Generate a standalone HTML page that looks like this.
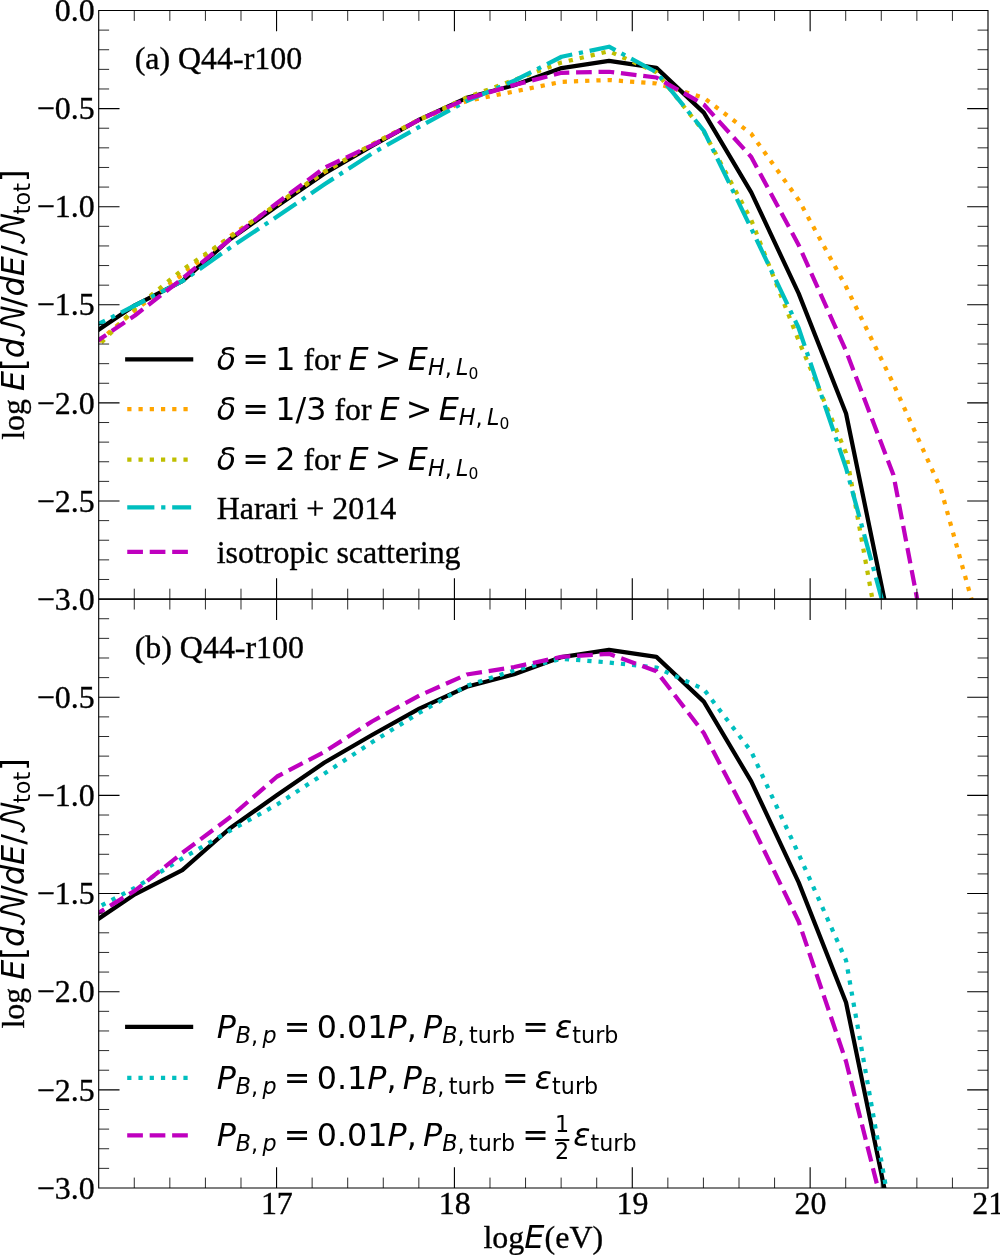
<!DOCTYPE html>
<html lang="en"><head><meta charset="utf-8"><title>Q44-r100 spectra</title>
<style>
html,body{margin:0;padding:0;background:#fff}
svg{display:block}
.ln path{fill:none;stroke-width:4.24;stroke-linejoin:round}
.tx text{fill:#000;}
.t{font-family:"Liberation Serif",serif;font-size:31.94px;stroke:#000;stroke-width:0.35px;}
.i{font-family:"DejaVu Sans",sans-serif;font-style:oblique;font-size:31.94px}
.r{font-family:"DejaVu Sans",sans-serif;font-size:31.94px}
.is{font-family:"DejaVu Sans",sans-serif;font-style:oblique;font-size:22.36px}
.rs{font-family:"DejaVu Sans",sans-serif;font-size:22.36px}
.iss{font-family:"DejaVu Sans",sans-serif;font-style:oblique;font-size:15.65px}
.rss{font-family:"DejaVu Sans",sans-serif;font-size:15.65px}
.c{font-family:"DejaVu Math TeX Gyre","DejaVu Serif",serif;font-size:31.94px}
</style></head>
<body>
<svg width="1000" height="1255" viewBox="0 0 1000 1255">
<rect width="1000" height="1255" fill="#fff"/>
<defs><clipPath id="ca"><rect x="98.7" y="10.5" width="889.3" height="588.6"/></clipPath><clipPath id="cb"><rect x="98.7" y="599.1" width="889.3" height="588.9"/></clipPath></defs>
<g class="ln" clip-path="url(#ca)">
<path d="M87.49 337.2L134.9 305.3L182.31 281.2L229.72 239.5L277.13 206L324.54 173.5L371.95 146L419.36 119.7L466.77 97.8L514.18 85.3L561.59 68.1L609 60.8L656.41 67.9L703.82 112.6L751.23 192.4L798.64 293.4L846.05 413.5L893.46 643.4" stroke="#000" stroke-linecap="square"/>
<path d="M87.49 351L134.9 310.4L182.31 274.7L229.72 236.5L277.13 204.5L324.54 172L371.95 144.5L419.36 119.5L466.77 101L514.18 91.5L561.59 81.8L609 80L656.41 83.5L703.82 97.75L751.23 133.75L798.64 199.9L846.05 286.7L893.46 384L940.87 489L988.28 659.6" stroke="#ffa500" stroke-dasharray="4.24 7.00" stroke-dashoffset="7.54"/>
<path d="M87.49 356.7L134.9 308.5L182.31 269.9L229.72 237.5L277.13 204L324.54 171.5L371.95 144.5L419.36 119.5L466.77 97.5L514.18 80L561.59 62.5L609 51.2L656.41 72.25L703.82 131.5L751.23 220L798.64 340.5L846.05 453L893.46 716" stroke="#bfbf00" stroke-dasharray="4.24 7.00" stroke-dashoffset="2.71"/>
<path d="M87.49 329.5L134.9 305.5L182.31 281.2L229.72 248L277.13 216.5L324.54 184.25L371.95 153.5L419.36 126.8L466.77 101L514.18 80.75L561.59 56.75L609 46.7L656.41 72.25L703.82 130.75L751.23 228.5L798.64 328L846.05 468L893.46 642" stroke="#00bfbf" stroke-dasharray="27.14 6.78 4.24 6.78" stroke-dashoffset="7.41"/>
<path d="M87.49 347.5L134.9 315.5L182.31 278.7L229.72 239.6L277.13 203L324.54 167.75L371.95 145.3L419.36 119.75L466.77 98.75L514.18 85L561.59 72.8L609 71.75L656.41 77.5L703.82 104.5L751.23 157L798.64 245L846.05 351L893.46 475L940.87 723" stroke="#bf00bf" stroke-dasharray="15.69 6.78" stroke-dashoffset="15.62"/>
</g>
<g class="ln" clip-path="url(#cb)">
<path d="M87.49 926.2L134.9 894.3L182.31 870.2L229.72 828.5L277.13 795L324.54 762.5L371.95 735L419.36 708.7L466.77 686.8L514.18 674.3L561.59 657.1L609 649.8L656.41 656.9L703.82 701.6L751.23 781.4L798.64 882.4L846.05 1002.5L893.46 1232.4" stroke="#000" stroke-linecap="square"/>
<path d="M87.49 912.9L134.9 887.9L182.31 858.4L229.72 830.8L277.13 804.5L324.54 773.5L371.95 742.3L419.36 712.75L466.77 685.75L514.18 670.4L561.59 658.75L609 662.5L656.41 667.5L703.82 689.25L751.23 751.5L798.64 854L846.05 960.5L893.46 1230" stroke="#00bfbf" stroke-dasharray="4.24 7.00" stroke-dashoffset="6.45"/>
<path d="M87.49 919.5L134.9 890.7L182.31 852.9L229.72 817.5L277.13 776.5L324.54 751.75L371.95 721.5L419.36 695.5L466.77 674.5L514.18 667L561.59 656.8L609 653.8L656.41 671.25L703.82 733L751.23 824L798.64 921.5L846.05 1061.5L893.46 1249.7" stroke="#bf00bf" stroke-dasharray="15.69 6.78" stroke-dashoffset="18.58"/>
</g>
<path d="M276.56 599.1v-20.83M276.56 10.5v20.83M454.42 599.1v-20.83M454.42 10.5v20.83M632.28 599.1v-20.83M632.28 10.5v20.83M810.14 599.1v-20.83M810.14 10.5v20.83M98.7 108.6h20.83M988 108.6h-20.83M98.7 206.7h20.83M988 206.7h-20.83M98.7 304.8h20.83M988 304.8h-20.83M98.7 402.9h20.83M988 402.9h-20.83M98.7 501h20.83M988 501h-20.83M276.56 1188v-20.83M276.56 599.1v20.83M454.42 1188v-20.83M454.42 599.1v20.83M632.28 1188v-20.83M632.28 599.1v20.83M810.14 1188v-20.83M810.14 599.1v20.83M98.7 697.25h20.83M988 697.25h-20.83M98.7 795.4h20.83M988 795.4h-20.83M98.7 893.55h20.83M988 893.55h-20.83M98.7 991.7h20.83M988 991.7h-20.83M98.7 1089.85h20.83M988 1089.85h-20.83" fill="none" stroke="#000" stroke-width="1.11"/>
<path d="M134.27 599.1v-10.42M134.27 10.5v10.42M169.84 599.1v-10.42M169.84 10.5v10.42M205.42 599.1v-10.42M205.42 10.5v10.42M240.99 599.1v-10.42M240.99 10.5v10.42M312.13 599.1v-10.42M312.13 10.5v10.42M347.7 599.1v-10.42M347.7 10.5v10.42M383.28 599.1v-10.42M383.28 10.5v10.42M418.85 599.1v-10.42M418.85 10.5v10.42M489.99 599.1v-10.42M489.99 10.5v10.42M525.56 599.1v-10.42M525.56 10.5v10.42M561.14 599.1v-10.42M561.14 10.5v10.42M596.71 599.1v-10.42M596.71 10.5v10.42M667.85 599.1v-10.42M667.85 10.5v10.42M703.42 599.1v-10.42M703.42 10.5v10.42M739 599.1v-10.42M739 10.5v10.42M774.57 599.1v-10.42M774.57 10.5v10.42M845.71 599.1v-10.42M845.71 10.5v10.42M881.28 599.1v-10.42M881.28 10.5v10.42M916.86 599.1v-10.42M916.86 10.5v10.42M952.43 599.1v-10.42M952.43 10.5v10.42M98.7 30.12h10.42M988 30.12h-10.42M98.7 49.74h10.42M988 49.74h-10.42M98.7 69.36h10.42M988 69.36h-10.42M98.7 88.98h10.42M988 88.98h-10.42M98.7 128.22h10.42M988 128.22h-10.42M98.7 147.84h10.42M988 147.84h-10.42M98.7 167.46h10.42M988 167.46h-10.42M98.7 187.08h10.42M988 187.08h-10.42M98.7 226.32h10.42M988 226.32h-10.42M98.7 245.94h10.42M988 245.94h-10.42M98.7 265.56h10.42M988 265.56h-10.42M98.7 285.18h10.42M988 285.18h-10.42M98.7 324.42h10.42M988 324.42h-10.42M98.7 344.04h10.42M988 344.04h-10.42M98.7 363.66h10.42M988 363.66h-10.42M98.7 383.28h10.42M988 383.28h-10.42M98.7 422.52h10.42M988 422.52h-10.42M98.7 442.14h10.42M988 442.14h-10.42M98.7 461.76h10.42M988 461.76h-10.42M98.7 481.38h10.42M988 481.38h-10.42M98.7 520.62h10.42M988 520.62h-10.42M98.7 540.24h10.42M988 540.24h-10.42M98.7 559.86h10.42M988 559.86h-10.42M98.7 579.48h10.42M988 579.48h-10.42M134.27 1188v-10.42M134.27 599.1v10.42M169.84 1188v-10.42M169.84 599.1v10.42M205.42 1188v-10.42M205.42 599.1v10.42M240.99 1188v-10.42M240.99 599.1v10.42M312.13 1188v-10.42M312.13 599.1v10.42M347.7 1188v-10.42M347.7 599.1v10.42M383.28 1188v-10.42M383.28 599.1v10.42M418.85 1188v-10.42M418.85 599.1v10.42M489.99 1188v-10.42M489.99 599.1v10.42M525.56 1188v-10.42M525.56 599.1v10.42M561.14 1188v-10.42M561.14 599.1v10.42M596.71 1188v-10.42M596.71 599.1v10.42M667.85 1188v-10.42M667.85 599.1v10.42M703.42 1188v-10.42M703.42 599.1v10.42M739 1188v-10.42M739 599.1v10.42M774.57 1188v-10.42M774.57 599.1v10.42M845.71 1188v-10.42M845.71 599.1v10.42M881.28 1188v-10.42M881.28 599.1v10.42M916.86 1188v-10.42M916.86 599.1v10.42M952.43 1188v-10.42M952.43 599.1v10.42M98.7 618.73h10.42M988 618.73h-10.42M98.7 638.36h10.42M988 638.36h-10.42M98.7 657.99h10.42M988 657.99h-10.42M98.7 677.62h10.42M988 677.62h-10.42M98.7 716.88h10.42M988 716.88h-10.42M98.7 736.51h10.42M988 736.51h-10.42M98.7 756.14h10.42M988 756.14h-10.42M98.7 775.77h10.42M988 775.77h-10.42M98.7 815.03h10.42M988 815.03h-10.42M98.7 834.66h10.42M988 834.66h-10.42M98.7 854.29h10.42M988 854.29h-10.42M98.7 873.92h10.42M988 873.92h-10.42M98.7 913.18h10.42M988 913.18h-10.42M98.7 932.81h10.42M988 932.81h-10.42M98.7 952.44h10.42M988 952.44h-10.42M98.7 972.07h10.42M988 972.07h-10.42M98.7 1011.33h10.42M988 1011.33h-10.42M98.7 1030.96h10.42M988 1030.96h-10.42M98.7 1050.59h10.42M988 1050.59h-10.42M98.7 1070.22h10.42M988 1070.22h-10.42M98.7 1109.48h10.42M988 1109.48h-10.42M98.7 1129.11h10.42M988 1129.11h-10.42M98.7 1148.74h10.42M988 1148.74h-10.42M98.7 1168.37h10.42M988 1168.37h-10.42" fill="none" stroke="#000" stroke-width="0.83"/>
<path d="M98.7 10.5H988V1188H98.7ZM98.7 599.1H988" fill="none" stroke="#000" stroke-width="1.11" stroke-linecap="square" stroke-linejoin="miter"/>
<path d="M98.7 599.1H988" fill="none" stroke="#000" stroke-width="1.11"/>
<g class="ln">
<path d="M127.25 359.26H191.14" stroke="#000" stroke-linecap="square"/>
<path d="M127.25 409.2H191.14" stroke="#ffa500" stroke-dasharray="4.24 7"/>
<path d="M127.25 459.54H191.14" stroke="#bfbf00" stroke-dasharray="4.24 7"/>
<path d="M127.25 507.34H191.14" stroke="#00bfbf" stroke-dasharray="27.14 6.78 4.24 6.78"/>
<path d="M127.25 551.98H191.14" stroke="#bf00bf" stroke-dasharray="15.69 6.78"/>
<path d="M127.2 1026.79H191.09" stroke="#000" stroke-linecap="square"/>
<path d="M127.2 1077.97H191.09" stroke="#00bfbf" stroke-dasharray="4.24 7"/>
<path d="M127.2 1135.49H191.09" stroke="#bf00bf" stroke-dasharray="15.69 6.78"/>
</g>
<g class="tx">
<text class="t" x="94.74" y="609.78" text-anchor="end">−3.0</text>
<text class="t" x="94.74" y="511.68" text-anchor="end">−2.5</text>
<text class="t" x="94.74" y="413.58" text-anchor="end">−2.0</text>
<text class="t" x="94.74" y="315.48" text-anchor="end">−1.5</text>
<text class="t" x="94.74" y="217.38" text-anchor="end">−1.0</text>
<text class="t" x="94.74" y="119.28" text-anchor="end">−0.5</text>
<text class="t" x="94.74" y="21.18" text-anchor="end">0.0</text>
<g transform="translate(24.87 439.77) rotate(-90)"><text><tspan class="t" x="0 8.89 24.89 40.89" y="-0.56">log </tspan><tspan class="i" x="48.89" y="-0.56">E</tspan><tspan class="r" x="69.11" y="-0.56">[</tspan><tspan class="i" x="81.59" y="-0.56">d</tspan><tspan class="c" x="100.41" y="-0.56">𝒩</tspan><tspan class="r" x="132.53" y="-0.56">/</tspan><tspan class="i" x="143.31 163.62" y="-0.56">dE</tspan><tspan class="r" x="183.84" y="-0.56">/</tspan><tspan class="c" x="193.12" y="-0.56">𝒩</tspan><tspan class="rs" x="225.55 234.34 248.04" y="4.69">tot</tspan><tspan class="r" x="257.7" y="-0.56">]</tspan></text></g>
<text class="t" x="134.63" y="69.43">(a) Q44-r100</text>
<g transform="translate(216.69 370.44) scale(0.995 1)"><text><tspan class="i" x="0" y="-0.25">δ</tspan><tspan class="r" x="25.81 58.86" y="-0.25">=1</tspan><tspan class="t" x="79.22 87.22 97.88 113.88 124.53" y="-0.25"> for </tspan><tspan class="i" x="132.53" y="-0.25">E</tspan><tspan class="r" x="158.98" y="-0.25">&gt;</tspan><tspan class="i" x="192.03" y="-0.25">E</tspan><tspan class="is" x="212.25" y="5">H</tspan><tspan class="rs" x="229.09" y="5">,</tspan><tspan class="is" x="240.58" y="5">L</tspan><tspan class="rss" x="253.06" y="8.68">0</tspan></text></g>
<g transform="translate(216.69 420.38) scale(0.995 1)"><text><tspan class="i" x="0" y="-0.25">δ</tspan><tspan class="r" x="25.81 58.86 79.22 90" y="-0.25">=1/3</tspan><tspan class="t" x="110.36 118.36 129.02 145.02 155.67" y="-0.25"> for </tspan><tspan class="i" x="163.67" y="-0.25">E</tspan><tspan class="r" x="190.12" y="-0.25">&gt;</tspan><tspan class="i" x="223.17" y="-0.25">E</tspan><tspan class="is" x="243.39" y="5">H</tspan><tspan class="rs" x="260.23" y="5">,</tspan><tspan class="is" x="271.72" y="5">L</tspan><tspan class="rss" x="284.2" y="8.68">0</tspan></text></g>
<g transform="translate(216.69 470.72) scale(0.995 1)"><text><tspan class="i" x="0" y="-0.25">δ</tspan><tspan class="r" x="25.81 58.86" y="-0.25">=2</tspan><tspan class="t" x="79.22 87.22 97.88 113.88 124.53" y="-0.25"> for </tspan><tspan class="i" x="132.53" y="-0.25">E</tspan><tspan class="r" x="158.98" y="-0.25">&gt;</tspan><tspan class="i" x="192.03" y="-0.25">E</tspan><tspan class="is" x="212.25" y="5">H</tspan><tspan class="rs" x="229.09" y="5">,</tspan><tspan class="is" x="240.58" y="5">L</tspan><tspan class="rss" x="253.06" y="8.68">0</tspan></text></g>
<text class="t" x="216.69" y="518.52">Harari + 2014</text>
<text class="t" x="216.69" y="563.16">isotropic scattering</text>
<text class="t" x="276.86" y="1214.03" text-anchor="middle">17</text>
<text class="t" x="454.72" y="1214.03" text-anchor="middle">18</text>
<text class="t" x="632.58" y="1214.03" text-anchor="middle">19</text>
<text class="t" x="810.44" y="1214.03" text-anchor="middle">20</text>
<text class="t" x="988.3" y="1214.03" text-anchor="middle">21</text>
<g transform="translate(483.45 1249.15)"><text><tspan class="t" x="0 8.89 24.89" y="-0.67">log</tspan><tspan class="i" x="40.89" y="-0.67">E</tspan><tspan class="t" x="61.11 71.77 85.97 109.08" y="-0.67">(eV)</tspan></text></g>
<text class="t" x="94.74" y="707.93" text-anchor="end">−0.5</text>
<text class="t" x="94.74" y="806.08" text-anchor="end">−1.0</text>
<text class="t" x="94.74" y="904.23" text-anchor="end">−1.5</text>
<text class="t" x="94.74" y="1002.38" text-anchor="end">−2.0</text>
<text class="t" x="94.74" y="1100.53" text-anchor="end">−2.5</text>
<text class="t" x="94.74" y="1198.68" text-anchor="end">−3.0</text>
<g transform="translate(24.87 1028.52) rotate(-90)"><text><tspan class="t" x="0 8.89 24.89 40.89" y="-0.56">log </tspan><tspan class="i" x="48.89" y="-0.56">E</tspan><tspan class="r" x="69.11" y="-0.56">[</tspan><tspan class="i" x="81.59" y="-0.56">d</tspan><tspan class="c" x="100.41" y="-0.56">𝒩</tspan><tspan class="r" x="132.53" y="-0.56">/</tspan><tspan class="i" x="143.31 163.62" y="-0.56">dE</tspan><tspan class="r" x="183.84" y="-0.56">/</tspan><tspan class="c" x="193.12" y="-0.56">𝒩</tspan><tspan class="rs" x="225.55 234.34 248.04" y="4.69">tot</tspan><tspan class="r" x="257.7" y="-0.56">]</tspan></text></g>
<text class="t" x="134.63" y="658.06">(b) Q44-r100</text>
<g transform="translate(216.64 1037.97) scale(0.995 1)"><text><tspan class="i" x="0" y="-0.25">P</tspan><tspan class="is" x="19.3" y="5">B</tspan><tspan class="rs" x="34.66" y="5">,</tspan><tspan class="is" x="46.15" y="5">p</tspan><tspan class="r" x="67.48 100.52 120.88 131.05 151.41" y="-0.25">=0.01</tspan><tspan class="i" x="171.77" y="-0.25">P</tspan><tspan class="r" x="191.07" y="-0.25">,</tspan><tspan class="i" x="207.48" y="-0.25">P</tspan><tspan class="is" x="226.77" y="5">B</tspan><tspan class="rs" x="242.14 253.62 262.41 276.6 285.81" y="5">,turb</tspan><tspan class="r" x="307.14" y="-0.25">=</tspan><tspan class="i" x="340.19" y="-0.25">ε</tspan><tspan class="rs" x="357.49 366.27 380.47 389.68" y="5">turb</tspan></text></g>
<g transform="translate(216.64 1089.15) scale(0.995 1)"><text><tspan class="i" x="0" y="-0.25">P</tspan><tspan class="is" x="19.3" y="5">B</tspan><tspan class="rs" x="34.66" y="5">,</tspan><tspan class="is" x="46.15" y="5">p</tspan><tspan class="r" x="67.48 100.52 120.88 131.05" y="-0.25">=0.1</tspan><tspan class="i" x="151.41" y="-0.25">P</tspan><tspan class="r" x="170.71" y="-0.25">,</tspan><tspan class="i" x="187.12" y="-0.25">P</tspan><tspan class="is" x="206.41" y="5">B</tspan><tspan class="rs" x="221.78 233.27 242.05 256.25 265.45" y="5">,turb</tspan><tspan class="r" x="286.78" y="-0.25">=</tspan><tspan class="i" x="319.83" y="-0.25">ε</tspan><tspan class="rs" x="337.13 345.91 360.11 369.32" y="5">turb</tspan></text></g>
<g transform="translate(216.64 1146.67) scale(0.995 1)"><text><tspan class="i" x="0" y="-0.66">P</tspan><tspan class="is" x="19.3" y="4.59">B</tspan><tspan class="rs" x="34.66" y="4.59">,</tspan><tspan class="is" x="46.15" y="4.59">p</tspan><tspan class="r" x="67.48 100.52 120.88 131.05 151.41" y="-0.66">=0.01</tspan><tspan class="i" x="171.77" y="-0.66">P</tspan><tspan class="r" x="191.07" y="-0.66">,</tspan><tspan class="i" x="207.48" y="-0.66">P</tspan><tspan class="is" x="226.77" y="4.59">B</tspan><tspan class="rs" x="242.14 253.62 262.41 276.6 285.81" y="4.59">,turb</tspan><tspan class="r" x="307.14" y="-0.66">=</tspan><tspan class="rs" x="340.19" y="-14.67">1</tspan><tspan class="rs" x="340.19" y="11.94">2</tspan><tspan class="i" x="358.43" y="-0.66">ε</tspan><tspan class="rs" x="375.73 384.51 398.71 407.92" y="4.59">turb</tspan></text><rect x="340.19" y="-7.68" width="14.25" height="2"/></g>
</g>
</svg>
</body></html>
